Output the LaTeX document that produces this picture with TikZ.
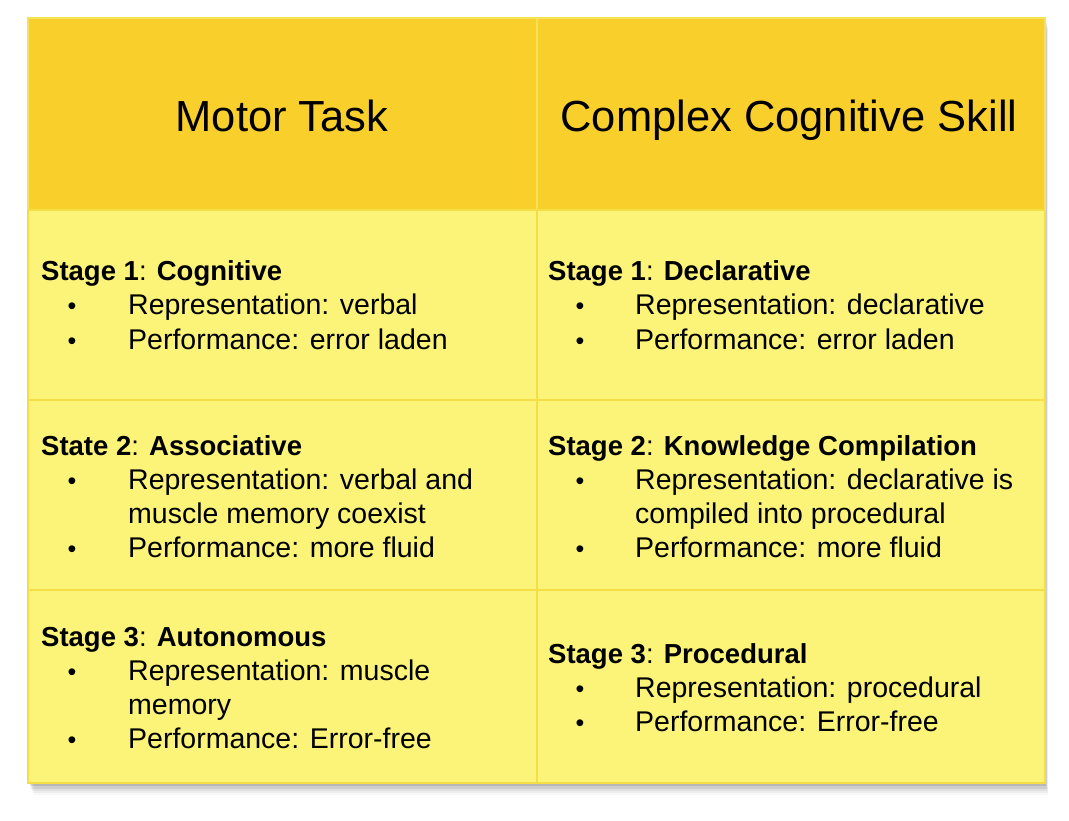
\documentclass[tikz,border=0pt]{standalone}
\usepackage{fontspec}
\setmainfont{Liberation Sans}
\begin{document}
\begin{tikzpicture}[x=1pt,y=-1pt,
  hdr/.style={draw=hdrline,line width=1.5pt,fill=hdrfill},
  cell/.style={draw=cellline,line width=1.5pt,fill=cellfill},
  htext/.style={font=\fontsize{43.5}{50}\selectfont,anchor=base},
  ttl/.style={font=\fontsize{27.5}{30}\selectfont,anchor=base west,inner sep=0pt},
  itm/.style={font=\fontsize{28.5}{30}\selectfont,anchor=base west,inner sep=0pt},
  bul/.style={font=\fontsize{25}{30}\selectfont,anchor=base,inner sep=0pt}]
\definecolor{hdrfill}{HTML}{F8CF2B}
\definecolor{hdrline}{HTML}{F6E25A}
\definecolor{cellfill}{HTML}{FCF479}
\definecolor{cellline}{HTML}{F5DE45}
\useasboundingbox (0,0) rectangle (1069,821);
\foreach \i/\o in {1/0.14,3/0.11,5/0.08,7/0.06,9/0.04,11/0.03}{
  \fill[black,opacity=\o] (28+\i*0.5,18+\i) rectangle (1045+\i*0.3,783+\i*1.1);}
\draw[hdr] (28,18) rectangle (537,210);
\draw[hdr] (537,18) rectangle (1045,210);
\draw[cell] (28,210) rectangle (537,400);
\draw[cell] (537,210) rectangle (1045,400);
\draw[cell] (28,400) rectangle (537,590);
\draw[cell] (537,400) rectangle (1045,590);
\draw[cell] (28,590) rectangle (537,783);
\draw[cell] (537,590) rectangle (1045,783);
\node[htext] (h1) at (282,132) {Motor Task};
\node[htext] (h2) at (789,132) {Complex Cognitive Skill};
% left column
\node[ttl] (a1) at (41,281) {\textbf{Stage 1}: \textbf{Cognitive}};
\node[bul] (a2b) at (72,315) {•}; \node[itm] (a2) at (128,315) {Representation: verbal};
\node[bul] (a3b) at (72,349) {•}; \node[itm] (a3) at (128,349) {Performance: error laden};
\node[ttl] (b1) at (41,455) {\textbf{State 2}: \textbf{Associative}};
\node[bul] (b2b) at (72,489) {•}; \node[itm] (b2) at (128,489) {Representation: verbal and};
\node[itm] (b3) at (128,523) {muscle memory coexist};
\node[bul] (b4b) at (72,557) {•}; \node[itm] (b4) at (128,557) {Performance: more fluid};
\node[ttl] (c1) at (41,646) {\textbf{Stage 3}: \textbf{Autonomous}};
\node[bul] (c2b) at (72,680) {•}; \node[itm] (c2) at (128,680) {Representation: muscle};
\node[itm] (c3) at (128,714) {memory};
\node[bul] (c4b) at (72,748) {•}; \node[itm] (c4) at (128,748) {Performance: Error-free};
% right column
\node[ttl] (d1) at (548,281) {\textbf{Stage 1}: \textbf{Declarative}};
\node[bul] (d2b) at (580,315) {•}; \node[itm] (d2) at (635,315) {Representation: declarative};
\node[bul] (d3b) at (580,349) {•}; \node[itm] (d3) at (635,349) {Performance: error laden};
\node[ttl] (e1) at (548,455) {\textbf{Stage 2}: \textbf{Knowledge Compilation}};
\node[bul] (e2b) at (580,489) {•}; \node[itm] (e2) at (635,489) {Representation: declarative is};
\node[itm] (e3) at (635,523) {compiled into procedural};
\node[bul] (e4b) at (580,557) {•}; \node[itm] (e4) at (635,557) {Performance: more fluid};
\node[ttl] (f1) at (548,663) {\textbf{Stage 3}: \textbf{Procedural}};
\node[bul] (f2b) at (580,697) {•}; \node[itm] (f2) at (635,697) {Representation: procedural};
\node[bul] (f3b) at (580,731) {•}; \node[itm] (f3) at (635,731) {Performance: Error-free};
\end{tikzpicture}
\end{document}
